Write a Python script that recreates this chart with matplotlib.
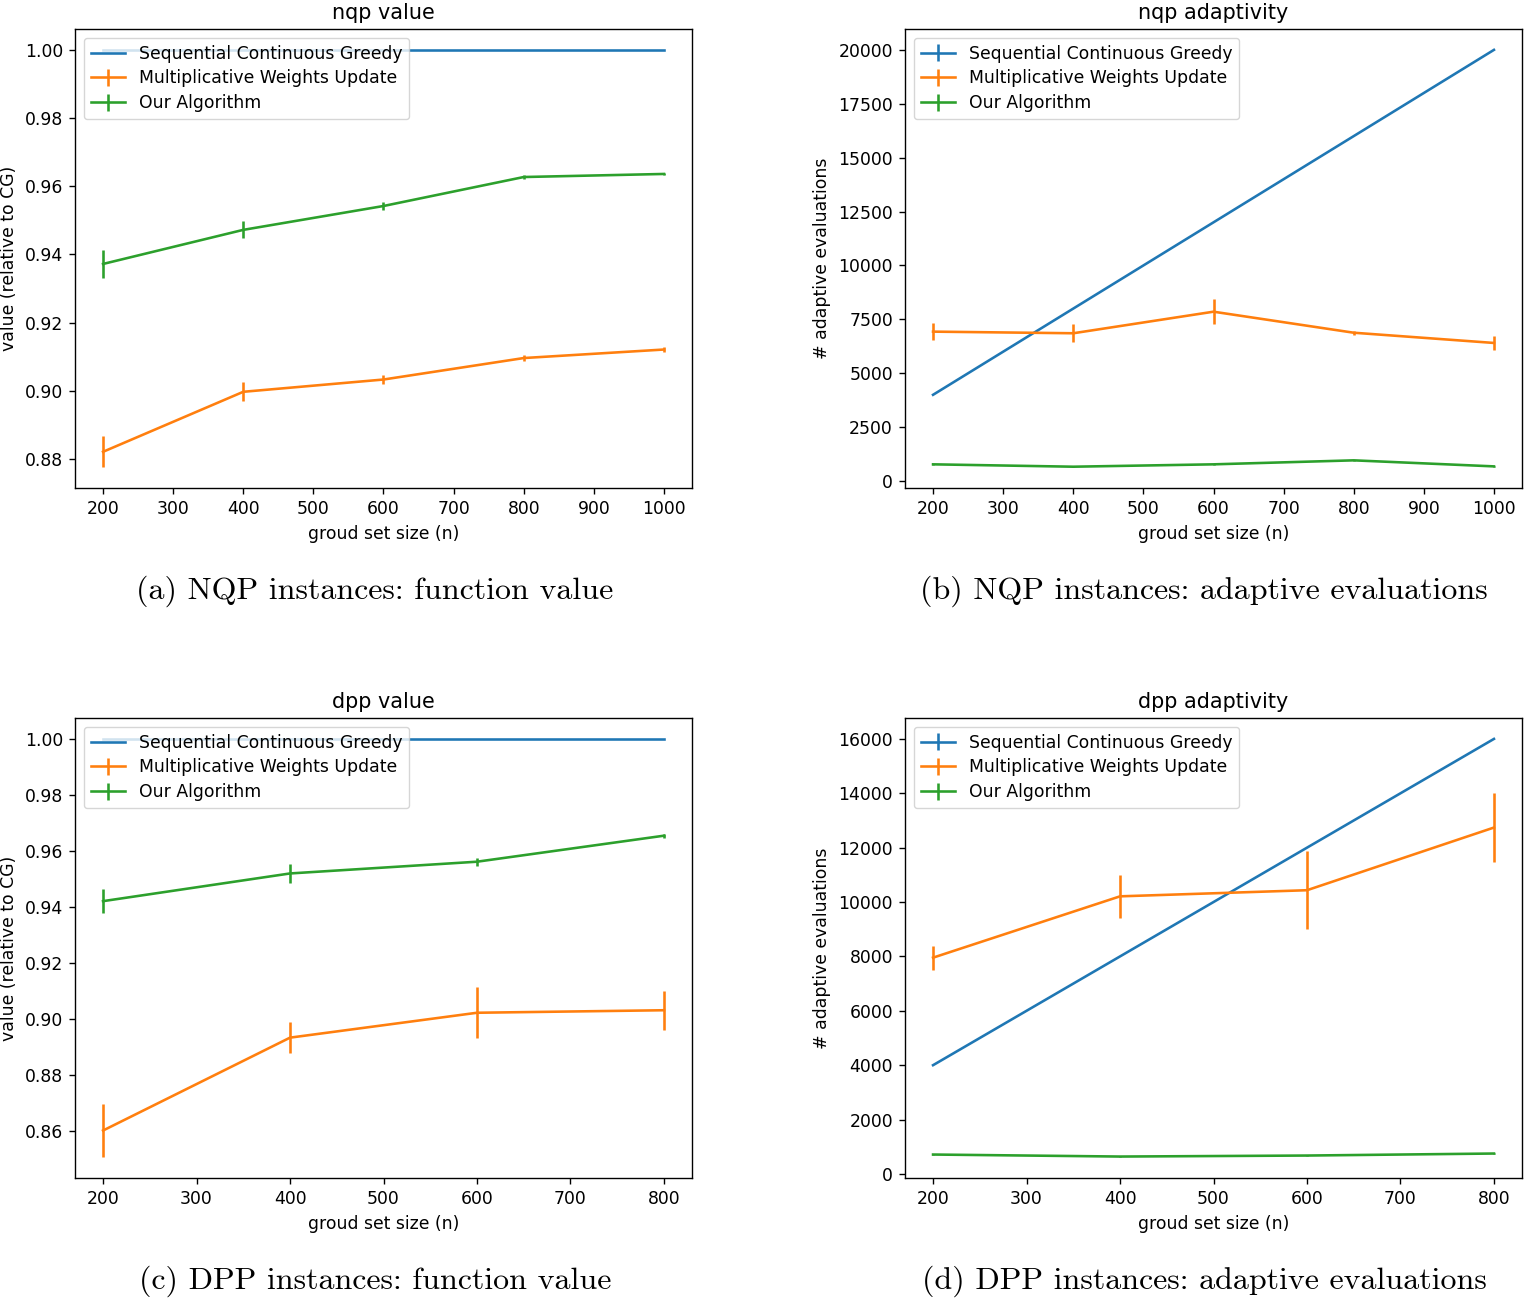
import matplotlib
matplotlib.use("Agg")
import matplotlib.pyplot as plt
import numpy as np

# ---- data ----
n_nqp = [200, 400, 600, 800, 1000]
n_dpp = [200, 400, 600, 800]

labels = ["Sequential Continuous Greedy", "Multiplicative Weights Update", "Our Algorithm"]

# (a) NQP value
nqp_val_scg = [1.0, 1.0, 1.0, 1.0, 1.0]
nqp_val_mwu = [0.8821, 0.8997, 0.9033, 0.9096, 0.9121]
nqp_val_mwu_err = [0.0045, 0.0028, 0.0012, 0.0009, 0.0006]
nqp_val_our = [0.9372, 0.9472, 0.9542, 0.9627, 0.9636]
nqp_val_our_err = [0.0040, 0.0025, 0.0012, 0.0006, 0.0003]

# (b) NQP adaptivity
nqp_ad_scg = [4000, 8000, 12000, 16000, 20000]
nqp_ad_scg_err = [0, 0, 0, 0, 0]
nqp_ad_mwu = [6930, 6855, 7855, 6880, 6405]
nqp_ad_mwu_err = [385, 420, 570, 90, 315]
nqp_ad_our = [775, 665, 775, 960, 680]
nqp_ad_our_err = [20, 20, 15, 10, 10]

# (c) DPP value
dpp_val_scg = [1.0, 1.0, 1.0, 1.0]
dpp_val_mwu = [0.8600, 0.8932, 0.9021, 0.9030]
dpp_val_mwu_err = [0.0095, 0.0055, 0.0092, 0.0069]
dpp_val_our = [0.9420, 0.9519, 0.9561, 0.9654]
dpp_val_our_err = [0.0043, 0.0033, 0.0015, 0.0007]

# (d) DPP adaptivity
dpp_ad_scg = [4000, 8000, 12000, 16000]
dpp_ad_scg_err = [0, 0, 0, 0]
dpp_ad_mwu = [7955, 10210, 10435, 12740]
dpp_ad_mwu_err = [443, 800, 1434, 1256]
dpp_ad_our = [714, 640, 677, 751]
dpp_ad_our_err = [30, 20, 25, 30]

captions = ["(a) NQP instances: function value",
            "(b) NQP instances: adaptive evaluations",
            "(c) DPP instances: function value",
            "(d) DPP instances: adaptive evaluations"]
titles = ["nqp value", "nqp adaptivity", "dpp value", "dpp adaptivity"]

# ---- style ----
S = 1.244
plt.rcParams.update({
    "font.family": ["DejaVu Sans"],
    "font.size": 10 * S,
    "axes.titlesize": 12 * S,
    "axes.labelsize": 10 * S,
    "xtick.labelsize": 10 * S,
    "ytick.labelsize": 10 * S,
    "legend.fontsize": 10 * S,
    "legend.labelspacing": 0.4,
    "lines.linewidth": 1.5 * S,
    "axes.linewidth": 0.8 * S,
    "xtick.major.width": 0.8 * S,
    "ytick.major.width": 0.8 * S,
    "xtick.major.size": 3.5 * S,
    "ytick.major.size": 3.5 * S,
    "xtick.major.pad": 3.5 * S,
    "ytick.major.pad": 3.5 * S,
    "axes.titlepad": 6 * S,
    "axes.labelpad": 4 * S,
})

C0, C1, C2 = "#1f77b4", "#ff7f0e", "#2ca02c"

fig = plt.figure(figsize=(15.27, 12.99), dpi=100)
W, H = 1527, 1299

def add_ax(left, top, right, bottom):
    return fig.add_axes([left / W, 1 - bottom / H, (right - left) / W, (bottom - top) / H])

ax_a = add_ax(75, 29, 692, 488)
ax_b = add_ax(905, 29, 1522, 488)
ax_c = add_ax(75, 718, 692, 1178)
ax_d = add_ax(905, 718, 1522, 1178)

# (a)
ax_a.plot(n_nqp, nqp_val_scg, color=C0, label=labels[0])
ax_a.errorbar(n_nqp, nqp_val_mwu, yerr=nqp_val_mwu_err, color=C1, label=labels[1])
ax_a.errorbar(n_nqp, nqp_val_our, yerr=nqp_val_our_err, color=C2, label=labels[2])
ax_a.set_ylabel("value (relative to CG)")

# (b)
ax_b.errorbar(n_nqp, nqp_ad_scg, yerr=nqp_ad_scg_err, color=C0, label=labels[0])
ax_b.errorbar(n_nqp, nqp_ad_mwu, yerr=nqp_ad_mwu_err, color=C1, label=labels[1])
ax_b.errorbar(n_nqp, nqp_ad_our, yerr=nqp_ad_our_err, color=C2, label=labels[2])
ax_b.set_ylabel("# adaptive evaluations")

# (c)
ax_c.plot(n_dpp, dpp_val_scg, color=C0, label=labels[0])
ax_c.errorbar(n_dpp, dpp_val_mwu, yerr=dpp_val_mwu_err, color=C1, label=labels[1])
ax_c.errorbar(n_dpp, dpp_val_our, yerr=dpp_val_our_err, color=C2, label=labels[2])
ax_c.set_ylabel("value (relative to CG)")

# (d)
ax_d.errorbar(n_dpp, dpp_ad_scg, yerr=dpp_ad_scg_err, color=C0, label=labels[0])
ax_d.errorbar(n_dpp, dpp_ad_mwu, yerr=dpp_ad_mwu_err, color=C1, label=labels[1])
ax_d.errorbar(n_dpp, dpp_ad_our, yerr=dpp_ad_our_err, color=C2, label=labels[2])
ax_d.set_ylabel("# adaptive evaluations")

for ax, t in zip([ax_a, ax_b, ax_c, ax_d], titles):
    ax.set_title(t)
    ax.set_xlabel("groud set size (n)")
    ax.legend(loc="upper left")

ax_a.set_yticks([0.88, 0.90, 0.92, 0.94, 0.96, 0.98, 1.00])
ax_c.set_yticks([0.86, 0.88, 0.90, 0.92, 0.94, 0.96, 0.98, 1.00])

# captions
cap_pos = [(375, 591), (1204, 591), (375, 1281), (1204, 1281)]
for (cx, cy), txt in zip(cap_pos, captions):
    fig.text(cx / W, 1 - cy / H, txt, ha="center", va="center",
             fontsize=23, family=["cmr10", "DejaVu Serif"])

fig.savefig("out.png", dpi=100)
